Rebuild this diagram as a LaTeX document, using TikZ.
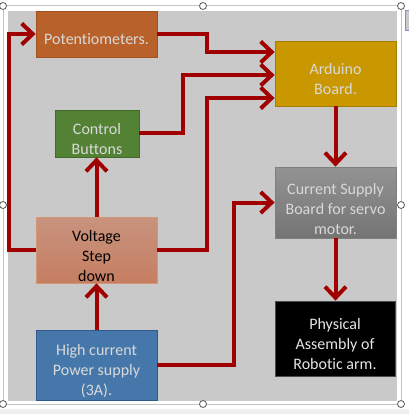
\documentclass[tikz,border=0pt]{standalone}
\usepackage{fontspec}
\setmainfont{Carlito}[Ligatures=NoCommon]
\usetikzlibrary{arrows.meta,calc}
\definecolor{bggray}{HTML}{C9C9C9}
\definecolor{arrowred}{HTML}{A00000}
\definecolor{txtlight}{HTML}{D9D9D9}
\definecolor{potc}{HTML}{B9612A}
\definecolor{potb}{HTML}{A2521F}
\definecolor{grnc}{HTML}{548235}
\definecolor{grnb}{HTML}{41692A}
\definecolor{ardc}{HTML}{C99700}
\definecolor{ardb}{HTML}{A67D00}
\definecolor{curt}{HTML}{939393}
\definecolor{curb}{HTML}{747474}
\definecolor{curd}{HTML}{7F7F7F}
\definecolor{volt}{HTML}{C8937E}
\definecolor{volb}{HTML}{C67E62}
\definecolor{vold}{HTML}{D49676}
\definecolor{bluc}{HTML}{4677AA}
\definecolor{blub}{HTML}{2F5A8A}
\definecolor{framegray}{HTML}{C4C4C4}
\begin{document}
\begin{tikzpicture}[x=1pt,y=-1pt,
  blk/.style={draw, line width=0.8pt, inner sep=0pt},
  txt/.style={align=center, inner sep=0pt, text=txtlight,
    font=\fontsize{16}{20}\selectfont},
  conn/.style={draw=arrowred, line width=4pt,
    -{Straight Barb[length=11pt,width=21pt]}},
  handle/.style={circle, draw=black!65, fill=white, line width=0.8pt,
    inner sep=0pt, minimum size=7pt}
]
\useasboundingbox (0,0) rectangle (409,414);
\fill[white] (0,0) rectangle (409,414);
\fill[black!6] (0,409) rectangle (409,414);
% background
\fill[bggray] (8,11) rectangle (397,401);
% selection frame
\draw[framegray, line width=1pt] (3,6) rectangle (401,404);
\fill[bggray] (405,10) rectangle (409,30);
\draw[blue!30!gray!70, line width=0.6pt] (409,10) -- (405.5,10) -- (405.5,30) -- (409,30);
% boxes
\node[blk, fill=potc, draw=potb, minimum width=121pt, minimum height=46pt] (pot) at (96.5,34) {};
\node[blk, fill=grnc, draw=grnb, minimum width=84pt, minimum height=47pt] (ctrl) at (97,133.5) {};
\node[blk, fill=ardc, draw=ardb, minimum width=121pt, minimum height=65pt] (ard) at (335.5,73.5) {};
\node[blk, top color=curt, bottom color=curb, draw=curd, minimum width=121pt, minimum height=71pt] (cur) at (335.5,202.5) {};
\node[blk, top color=volt, bottom color=volb, draw=vold, minimum width=121pt, minimum height=66pt] (vol) at (96.5,250) {};
\node[blk, fill=bluc, draw=blub, minimum width=121pt, minimum height=70pt] (hi) at (96.5,365) {};
\node[blk, fill=black, draw=black!70, minimum width=120pt, minimum height=75pt] (phy) at (335,338.5) {};
% texts
\node[txt] (potT) at ([yshift=-5pt]pot.center) {Potentiometers.};
\node[txt] (ctrlT) at ([yshift=-6pt]ctrl.center) {Control\\Buttons};
\node[txt] (ardT) at ([yshift=-6pt]ard.center) {Arduino\\Board.};
\node[txt] (curT) at ([yshift=-6.5pt]cur.center) {Current Supply\\Board for servo\\motor.};
\node[txt, text=black] (volT) at ([yshift=-6pt]vol.center) {Voltage\\Step\\down};
\node[txt] (hiT) at ([yshift=-6.5pt]hi.center) {High current\\Power supply\\(3A).};
\node[txt, text=white!90!black] (phyT) at ([yshift=-6pt]phy.center) {Physical\\Assembly of\\Robotic arm.};
% connectors
\draw[conn] (vol.west) -- ++(-26.5,0) |- (pot.west);
\draw[conn] (pot.east) -- ++(50,0) |- ($(ard.west)+(0,-21.5)$);
\draw[conn] (ctrl.east) -- ++(44,0) |- ($(ard.west)+(0,1.5)$);
\draw[conn] (vol.east) -- ++(50,0) |- ($(ard.west)+(0,24.5)$);
\draw[conn] (hi.east) -- ++(77,0) |- (cur.west);
\draw[conn] (vol.north) -- (vol.north |- ctrl.south);
\draw[conn] (hi.north) -- (vol.south);
\draw[conn] (ard.south) -- (ard.south |- cur.north);
\draw[conn] (cur.south) -- (cur.south |- phy.north);
% handles
\foreach \n/\p in {h1/{(3,6)}, h2/{(203,6)}, h3/{(401,6)}, h4/{(3,205)}, h5/{(401,205)}, h6/{(3,404)}, h7/{(203,404)}, h8/{(401,404)}}
  \node[handle] (\n) at \p {};
\end{tikzpicture}
\end{document}
